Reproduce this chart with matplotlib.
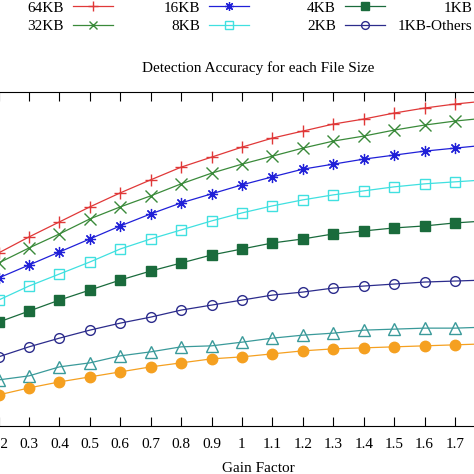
import matplotlib
matplotlib.use("Agg")
import matplotlib.pyplot as plt

plt.rcParams['font.family'] = ['Liberation Serif', 'DejaVu Serif']

# data (y as fraction of the plotted range)
gain = [0.2, 0.3, 0.4, 0.5, 0.6, 0.7, 0.8, 0.9, 1.0, 1.1, 1.2, 1.3, 1.4, 1.5, 1.6, 1.7, 1.8]
acc_64kb = [0.518, 0.566, 0.611, 0.656, 0.698, 0.737, 0.775, 0.805, 0.835, 0.862, 0.883, 0.904, 0.919, 0.937, 0.952, 0.964, 0.973]
acc_32kb = [0.488, 0.533, 0.575, 0.620, 0.656, 0.689, 0.725, 0.757, 0.784, 0.808, 0.832, 0.853, 0.868, 0.886, 0.901, 0.913, 0.922]
acc_16kb = [0.443, 0.482, 0.521, 0.560, 0.599, 0.635, 0.668, 0.695, 0.722, 0.746, 0.769, 0.784, 0.799, 0.811, 0.823, 0.832, 0.841]
acc_8kb = [0.377, 0.419, 0.455, 0.491, 0.530, 0.560, 0.587, 0.614, 0.638, 0.659, 0.677, 0.692, 0.704, 0.716, 0.725, 0.731, 0.737]
acc_4kb = [0.311, 0.344, 0.377, 0.407, 0.437, 0.464, 0.488, 0.512, 0.530, 0.548, 0.560, 0.575, 0.584, 0.593, 0.599, 0.608, 0.614]
acc_2kb = [0.207, 0.237, 0.263, 0.287, 0.308, 0.326, 0.347, 0.362, 0.377, 0.392, 0.401, 0.413, 0.419, 0.425, 0.431, 0.434, 0.437]
acc_1kb = [0.138, 0.150, 0.177, 0.189, 0.210, 0.222, 0.237, 0.240, 0.251, 0.263, 0.272, 0.278, 0.287, 0.290, 0.293, 0.293, 0.296]
acc_1kb_oth = [0.093, 0.114, 0.132, 0.147, 0.162, 0.177, 0.189, 0.201, 0.207, 0.216, 0.225, 0.231, 0.234, 0.237, 0.240, 0.243, 0.246]

labels = ["64KB", "32KB", "16KB", "8KB", "4KB", "2KB", "1KB", "1KB-Others"]
series = [acc_64kb, acc_32kb, acc_16kb, acc_8kb, acc_4kb, acc_2kb, acc_1kb, acc_1kb_oth]
colors = ["#e03838", "#3a8a3a", "#2020d8", "#40e0e0", "#1a6b3c", "#2c2c8c", "#3a9a9a", "#f5a020"]
markers = ["+", "x", (8, 2, 0), "s", "s", "o", "^", "o"]
filled = [True, True, True, False, True, False, False, True]
msizes = [9, 8, 8, 7, 7, 7, 8, 7.5]
mwidths = [1.0, 1.0, 0.9, 1.0, 1.0, 1.0, 1.0, 1.0]

W = 474.0
fig = plt.figure(figsize=(4.74, 4.74), dpi=100)
# axes frame runs past the left/right picture edges
ax = fig.add_axes([-31.9 / W, 1 - 426 / W, 578.2 / W, 334 / W])

lines = []
for y, lab, c, m, f, ms, mw in zip(series, labels, colors, markers, filled, msizes, mwidths):
    ln, = ax.plot(gain, y, color=c, lw=0.9, marker=m, ms=ms, mew=mw,
                  mfc=c if f else 'none', mec=c, label=lab)
    lines.append(ln)

ax.set_xlim(0.1, 2.0)
ax.set_ylim(0, 1)
ax.set_xticks([0.2 + 0.1 * i for i in range(18)])
ax.set_xticklabels(["%g" % round(0.2 + 0.1 * i, 1) for i in range(18)])
ax.set_yticks([])
ax.tick_params(axis='x', direction='in', length=6.5, width=0.8, top=True,
               labelsize=11, pad=9)
for s in ax.spines.values():
    s.set_linewidth(0.8)

fig.text(258 / W, 1 - 68 / W, "Detection Accuracy for each File Size",
         ha='center', va='center', fontsize=11)
fig.text(258 / W, 1 - 468 / W, "Gain Factor", ha='center', va='center', fontsize=11)

# gnuplot-style key: label right-aligned, sample to its right
col_right = [113, 249, 385, 521]
for i, xr in enumerate(col_right):
    fig.legend(handles=lines[2 * i:2 * i + 2], loc='upper right',
               bbox_to_anchor=(xr / W, 1 - 1 / W), ncol=1, frameon=False,
               markerfirst=False, fontsize=11, handlelength=2.6,
               handletextpad=0.6, labelspacing=0.3, borderpad=0,
               borderaxespad=0, markerscale=0.8)

fig.savefig("out.png", dpi=100)
